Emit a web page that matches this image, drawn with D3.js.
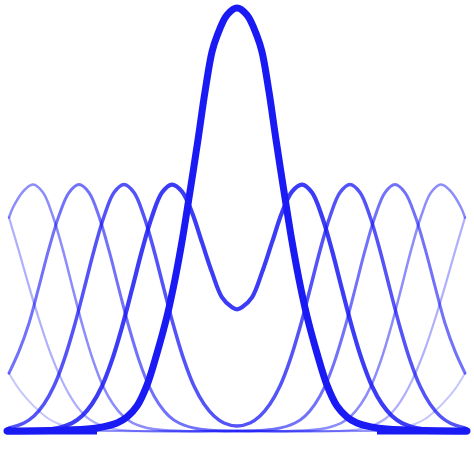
<!DOCTYPE html>
<html><head><meta charset="utf-8">
<script src="https://cdn.jsdelivr.net/npm/d3@7"></script>
<style>body{margin:0;background:#fff}</style></head>
<body><svg id="c" width="474" height="474"></svg>
<script>
// [x offset from centre, height above baseline]
const curve0 = [[-230,0],[-170,1],[-140,3],[-120,8],[-110,14],[-100,25],[-90,46],[-80,78],[-70,115],[-62,152],[-55,190],[-47,240],[-39,292],[-32,340],[-25,380],[-20,396],[-10,417],[0,424],
 [10,417],[20,396],[25,380],[32,340],[39,292],[47,240],[55,190],[62,152],[70,115],[80,78],[90,46],[100,25],[110,14],[120,8],[140,3],[170,1],[230,0]];
const curve1 = [[-228,0],[-185,2],[-165,8],[-155,15],[-145,27],[-135,45],[-125,71],[-115,104],[-105,142],[-95,181],[-85,215],[-75,239],[-65,247],[-55,240],[-45,219],[-35,189],[-25,159],[-15,134],[-5,124],[0,122],
 [5,124],[15,134],[25,159],[35,189],[45,219],[55,240],[65,247],[75,239],[85,215],[95,181],[105,142],[115,104],[125,71],[135,45],[145,27],[155,15],[165,8],[185,2],[228,0]];
const curve2 = [[-228,3],[-213,8],[-203,15],[-193,27],[-183,45],[-173,71],[-163,104],[-153,142],[-143,181],[-133,215],[-123,239],[-113,247],[-103,239],[-93,215],[-83,181],[-73,142],[-63,104],[-53,71],[-43,45],[-33,27],[-23,15],[-13,8],[0,5],
 [13,8],[23,15],[33,27],[43,45],[53,71],[63,104],[73,142],[83,181],[93,215],[103,239],[113,247],[123,239],[133,215],[143,181],[153,142],[163,104],[173,71],[183,45],[193,27],[203,15],[213,8],[228,3]];
const curve3 = [[-228,58],[-218,80],[-208,108],[-198,145],[-188,183],[-178,216],[-168,239],[-158,247],[-148,239],[-138,215],[-128,181],[-118,142],[-108,104],[-98,71],[-88,45],[-78,27],[-68,15],[-58,8],[-38,2],[0,0],
 [38,2],[58,8],[68,15],[78,27],[88,45],[98,71],[108,104],[118,142],[128,181],[138,215],[148,239],[158,247],[168,239],[178,216],[188,183],[198,145],[208,108],[218,80],[228,58]];
const curve4 = [[-228,214],[-224,224],[-214,240],[-204,247],[-194,239],[-184,215],[-174,181],[-164,142],[-154,104],[-144,71],[-134,45],[-124,27],[-114,15],[-104,8],[-84,2],[-54,0],[0,0],
 [54,0],[84,2],[104,8],[114,15],[124,27],[134,45],[144,71],[154,104],[164,142],[174,181],[184,215],[194,239],[204,247],[214,240],[224,224],[228,214]];
const ghost4L = [[-228,214],[-218,180],[-208,145],[-198,112],[-188,82],[-178,57],[-168,37],[-158,22],[-148,12],[-128,3],[-100,0],[0,0]];
const ghost4R = [[0,0],[100,0],[128,3],[148,12],[158,22],[168,37],[178,57],[188,82],[198,112],[208,145],[218,180],[228,214]];
const ghost3L = [[-228,58],[-218,42],[-208,30],[-198,20],[-188,12],[-178,7],[-168,4],[-148,1],[-120,0],[0,0]];
const ghost3R = [[0,0],[120,0],[148,1],[168,4],[178,7],[188,12],[198,20],[208,30],[218,42],[228,58]];

const series = [
  {d: ghost3L, op: 0.25, w: 2}, {d: ghost3R, op: 0.25, w: 2},
  {d: ghost4L, op: 0.35, w: 2.2}, {d: ghost4R, op: 0.35, w: 2.2},
  {d: curve4, op: 0.5, w: 2.5},
  {d: curve3, op: 0.62, w: 3},
  {d: curve2, op: 0.75, w: 3.5},
  {d: curve1, op: 0.85, w: 4.2},
  {d: curve0, op: 1, w: 7}
];

const svg = d3.select("#c");
const x = d3.scaleLinear().domain([-228, 228]).range([9, 465]);
const y = d3.scaleLinear().domain([0, 424]).range([431, 8]);
const color = "#1a1af5";

svg.append("line").attr("x1", x(-228)).attr("x2", x(228)).attr("y1", y(0)).attr("y2", y(0))
  .attr("stroke", color).attr("stroke-opacity", 0.3).attr("stroke-width", 2);
const straight = d3.line().x(d=>x(d[0])).y(d=>y(d[1]));
svg.append("path").attr("d", straight([[-228,4],[-228,-1],[-140,-1]]))
  .attr("fill","none").attr("stroke",color).attr("stroke-width",5);
svg.append("path").attr("d", straight([[140,-1],[228,-1],[228,4]]))
  .attr("fill","none").attr("stroke",color).attr("stroke-width",5);

const line = d3.line().x(d => x(d[0])).y(d => y(d[1])).curve(d3.curveCatmullRom.alpha(0.5));
series.forEach(s => {
  svg.append("path").attr("d", line(s.d)).attr("fill", "none")
    .attr("stroke", color).attr("stroke-opacity", s.op).attr("stroke-width", s.w)
    .attr("stroke-linejoin", "round").attr("stroke-linecap", "round");
});
</script></body></html>
